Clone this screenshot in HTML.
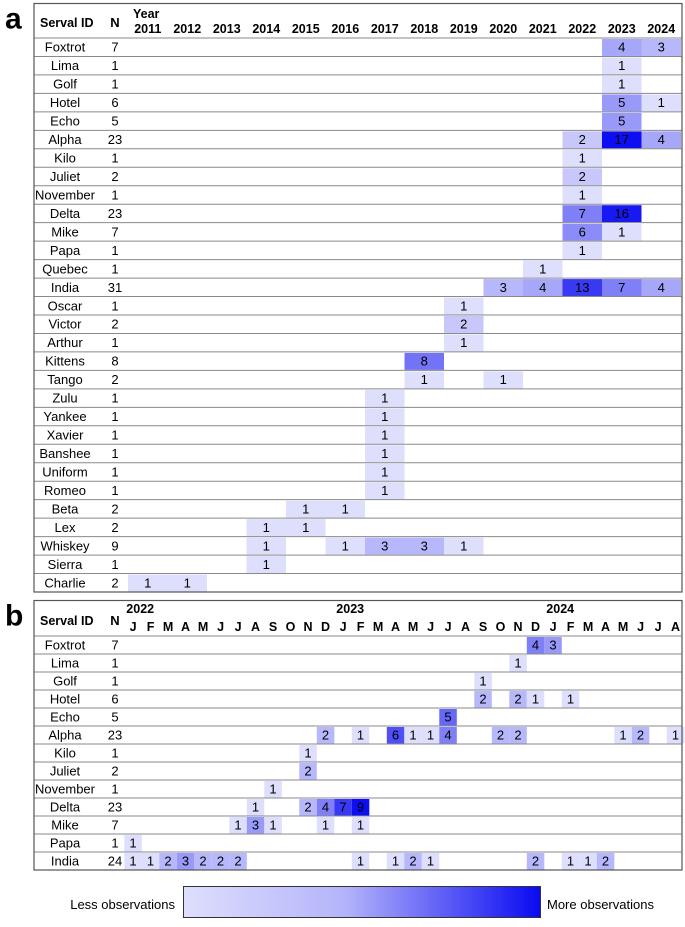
<!DOCTYPE html>
<html><head><meta charset="utf-8"><style>
body{margin:0;background:#fff;width:685px;height:927px;overflow:hidden}
svg{display:block;font-family:"Liberation Sans",Arial,sans-serif}
</style></head><body>
<svg id="chart" width="685" height="927" viewBox="0 0 685 927" xmlns="http://www.w3.org/2000/svg">
<defs><linearGradient id="lg" x1="0" x2="1" y1="0" y2="0"><stop offset="0" stop-color="#dedefd"/><stop offset="0.45" stop-color="#b4b4fb"/><stop offset="1" stop-color="#0a0af2"/></linearGradient></defs>
<g id="pa"></g><g id="pb"></g>
<g>
<rect x="183.5" y="886.5" width="357" height="31" fill="url(#lg)" stroke="#333" stroke-width="1"/>
<text x="175" y="909" text-anchor="end" font-size="13">Less observations</text>
<text x="547" y="909" font-size="13">More observations</text>
</g>
</svg>
<script>
const namesA=["Foxtrot","Lima","Golf","Hotel","Echo","Alpha","Kilo","Juliet","November","Delta","Mike","Papa","Quebec","India","Oscar","Victor","Arthur","Kittens","Tango","Zulu","Yankee","Xavier","Banshee","Uniform","Romeo","Beta","Lex","Whiskey","Sierra","Charlie"];
const nA=[7,1,1,6,5,23,1,2,1,23,7,1,1,31,1,2,1,8,2,1,1,1,1,1,1,2,2,9,1,2];
const yearsA=["2011","2012","2013","2014","2015","2016","2017","2018","2019","2020","2021","2022","2023","2024"];
// [rowIndex, yearIndex, count]
const cellsA=[[0,12,4],[0,13,3],[1,12,1],[2,12,1],[3,12,5],[3,13,1],[4,12,5],[5,11,2],[5,12,17],[5,13,4],[6,11,1],[7,11,2],[8,11,1],[9,11,7],[9,12,16],[10,11,6],[10,12,1],[11,11,1],[12,10,1],[13,9,3],[13,10,4],[13,11,13],[13,12,7],[13,13,4],[14,8,1],[15,8,2],[16,8,1],[17,7,8],[18,7,1],[18,9,1],[19,6,1],[20,6,1],[21,6,1],[22,6,1],[23,6,1],[24,6,1],[25,4,1],[25,5,1],[26,3,1],[26,4,1],[27,3,1],[27,5,1],[27,6,3],[27,7,3],[27,8,1],[28,3,1],[29,0,1],[29,1,1]];
const namesB=["Foxtrot","Lima","Golf","Hotel","Echo","Alpha","Kilo","Juliet","November","Delta","Mike","Papa","India"];
const nB=[7,1,1,6,5,23,1,2,1,23,7,1,24];
const monthsB=["J","F","M","A","M","J","J","A","S","O","N","D","J","F","M","A","M","J","J","A","S","O","N","D","J","F","M","A","M","J","J","A"];
const yearLabelsB=[["2022",0],["2023",12],["2024",24]];
// [rowIndex, monthIndex (0=Jan 2022), count]
const cellsB=[[0,23,4],[0,24,3],[1,22,1],[2,20,1],[3,20,2],[3,22,2],[3,23,1],[3,25,1],[4,18,5],[5,11,2],[5,13,1],[5,15,6],[5,16,1],[5,17,1],[5,18,4],[5,21,2],[5,22,2],[5,28,1],[5,29,2],[5,31,1],[6,10,1],[7,10,2],[8,8,1],[9,7,1],[9,10,2],[9,11,4],[9,12,7],[9,13,9],[10,6,1],[10,7,3],[10,8,1],[10,11,1],[10,13,1],[11,0,1],[12,0,1],[12,1,1],[12,2,2],[12,3,3],[12,4,2],[12,5,2],[12,6,2],[12,13,1],[12,15,1],[12,16,2],[12,17,1],[12,23,2],[12,25,1],[12,26,1],[12,27,2]];

const NS="http://www.w3.org/2000/svg";
function mk(p,tag,at,txt){const e=document.createElementNS(NS,tag);for(const k in at)e.setAttribute(k,at[k]);if(txt!==undefined)e.textContent=txt;p.appendChild(e);return e;}
function color(v,max){const t=max>1?(v-1)/(max-1):0;const s=Math.pow(t,0.8);
 const r=Math.round(222-(222-14)*s),b=Math.round(253-(253-242)*s);return `rgb(${r},${r},${b})`;}

function panel(g,cfg){
 const {top,hdrBot,bottom,left,right,colX0,colW,names,ns,cells,max,label,headerBold}=cfg;
 const rh=(bottom-hdrBot)/names.length;
 const xs=i=>colX0+i*colW, ys=r=>hdrBot+r*rh;
 let t=mk(g,'text',{x:5,y:top+25,'font-size':30,'font-weight':'bold'},label);
 
 cells.forEach(c=>{const r=mk(g,'rect',{x:xs(c[1]),y:ys(c[0])+1,width:colW,height:rh-1.5,fill:color(c[2],max)});
  
  const tx=mk(g,'text',{x:xs(c[1])+colW/2,y:ys(c[0])+rh/2+4.5,'text-anchor':'middle','font-size':13},c[2]);
  });
 names.forEach((n,i)=>{
  if(i>0){const l=mk(g,'line',{x1:left,x2:right,y1:ys(i),y2:ys(i),stroke:'#8a8a8a','stroke-width':1});}
  const a=mk(g,'text',{x:65,y:ys(i)+rh/2+4.5,'text-anchor':'middle','font-size':13},n);
  
  const b=mk(g,'text',{x:115,y:ys(i)+rh/2+4.5,'text-anchor':'middle','font-size':13},ns[i]);
  });
 const hl=mk(g,'line',{x1:left,x2:right,y1:hdrBot,y2:hdrBot,stroke:'#8a8a8a','stroke-width':1});
 const bx=mk(g,'rect',{x:left,y:top,width:right-left,height:bottom-top,fill:'none',stroke:'#555','stroke-width':1.2});
 
 let h1=mk(g,'text',{x:40,y:hdrBot-11,'font-size':12.5,'font-weight':'bold'},'Serval ID');
 let h2=mk(g,'text',{x:115,y:hdrBot-11,'text-anchor':'middle','font-size':13,'font-weight':'bold'},'N');
 return {xs,ys};
}
const ga=document.getElementById('pa');
const A=panel(ga,{top:3.5,hdrBot:38,bottom:592,left:34,right:682,colX0:128,colW:39.5,names:namesA,ns:nA,cells:cellsA,max:17,label:'a'});
let yt=mk(ga,'text',{x:133,y:18,'font-size':12.5,'font-weight':'bold'},'Year');
yearsA.forEach((y,i)=>{const e=mk(ga,'text',{x:A.xs(i)+39.5/2,y:33,'text-anchor':'middle','font-size':12.5,'font-weight':'bold'},y);});
const gb=document.getElementById('pb');
const B=panel(gb,{top:600.5,hdrBot:636,bottom:870,left:34,right:682,colX0:124.3,colW:17.5,names:namesB,ns:nB,cells:cellsB,max:9,label:'b'});
yearLabelsB.forEach(y=>{const e=mk(gb,'text',{x:B.xs(y[1])+2,y:613,'font-size':12.5,'font-weight':'bold'},y[0]);});
monthsB.forEach((m,i)=>{const e=mk(gb,'text',{x:B.xs(i)+17.5/2,y:631,'text-anchor':'middle','font-size':12.5,'font-weight':'bold'},m);});
</script>
</body></html>
